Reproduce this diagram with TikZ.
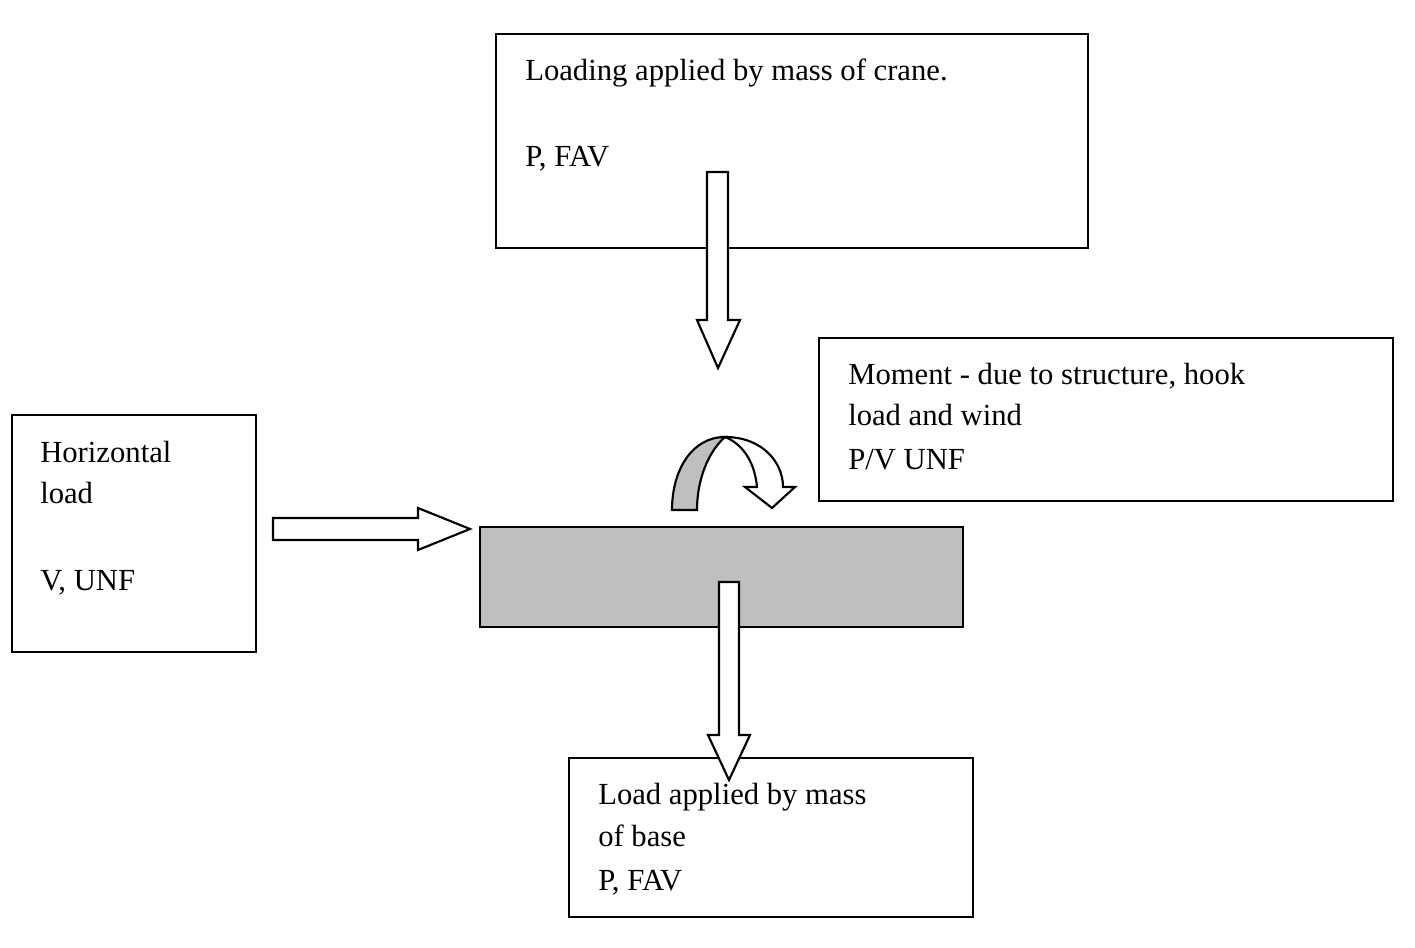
\documentclass[tikz,border=0pt]{standalone}
\usepackage{fontspec}
\setmainfont{Liberation Serif}
\begin{document}
\begin{tikzpicture}[x=0.75pt,y=-0.75pt,
  box/.style={draw,line width=1.6pt},
  txt/.style={anchor=base west,inner sep=0pt,font=\fontsize{23}{28}\selectfont},
  blk/.style={draw,line width=1.6pt,fill=white,line join=miter}]
\useasboundingbox (0,0) rectangle (1415,948);
\draw[box] (496,34) rectangle (1088,248);
\node[txt] (t1) at (525,81) {Loading applied by mass of crane.};
\node[txt] (t2) at (525,167) {P, FAV};
\draw[box] (819,338) rectangle (1393,501);
\node[txt] (m1) at (848,385) {Moment - due to structure, hook};
\node[txt] (m2) at (848,426) {load and wind};
\node[txt] (m3) at (848,470) {P/V UNF};
\draw[box] (12,415) rectangle (256,652);
\node[txt] (h1) at (40,463) {Horizontal};
\node[txt] (h2) at (40,504) {load};
\node[txt] (h3) at (40,590) {V, UNF};
\draw[box] (569,758) rectangle (973,917);
\node[txt] (b1) at (598,804) {Load applied by mass};
\node[txt] (b2) at (598,846) {of base};
\node[txt] (b3) at (598,890) {P, FAV};
\draw[box,fill=black!25] (480,527) rectangle (963,627);
% down arrow from top box
\draw[blk] (707,172) -- (728,172) -- (728,320) -- (740,320) -- (718,368) -- (697,320) -- (707,320) -- cycle;
% right arrow
\draw[blk] (273,518) -- (418,518) -- (418,508) -- (470,529) -- (418,550) -- (418,540) -- (273,540) -- cycle;
% bottom arrow
\draw[blk] (719,582) -- (739,582) -- (739,735) -- (750,735) -- (729,780) -- (708,735) -- (719,735) -- cycle;
% moment arrow
\draw[blk] (725,437) .. controls (762,437) and (783,462) .. (783,487) -- (795,487) -- (772,508) -- (745,487) -- (757,487) .. controls (755,465) and (745,445) .. (725,437) -- cycle;
\draw[blk,fill=black!25] (672,510) .. controls (672,470) and (692,437) .. (725,437) .. controls (708,452) and (697,480) .. (697,510) -- cycle;
\end{tikzpicture}
\end{document}
